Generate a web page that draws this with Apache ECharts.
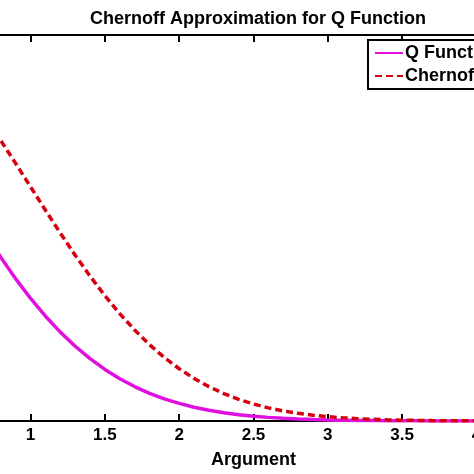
<!DOCTYPE html>
<html>
<head>
<meta charset="utf-8">
<script src="https://cdn.jsdelivr.net/npm/echarts@6/dist/echarts.min.js"></script>
<style>
  html, body { margin: 0; padding: 0; background: #fff; }
  #chart { width: 474px; height: 474px; }
</style>
</head>
<body>
<div id="chart"></div>
<script>
// argument values (x)
const args = [0, 0.1, 0.2, 0.3, 0.4, 0.5, 0.6, 0.7, 0.8, 0.9,
  1.0, 1.1, 1.2, 1.3, 1.4, 1.5, 1.6, 1.7, 1.8, 1.9,
  2.0, 2.1, 2.2, 2.3, 2.4, 2.5, 2.6, 2.7, 2.8, 2.9,
  3.0, 3.1, 3.2, 3.3, 3.4, 3.5, 3.6, 3.7, 3.8, 3.9,
  4.0, 4.2, 4.4, 4.6, 4.8, 5.0]

// Q function curve
const qValues = [0.5, 0.4602, 0.4207, 0.3821, 0.3446, 0.3085, 0.2743, 0.2420, 0.2119, 0.1841,
  0.1587, 0.1357, 0.1151, 0.0968, 0.0808, 0.0668, 0.0548, 0.0446, 0.0359, 0.0287,
  0.0228, 0.0179, 0.0139, 0.0107, 0.0082, 0.0062, 0.0047, 0.0035, 0.0026, 0.0019,
  0.0013, 0.0010, 0.0007, 0.0005, 0.0003, 0.0002, 0.0002, 0.0001, 0.0001, 0.0000,
  0.0000, 0.0000, 0.0000, 0.0000, 0.0000, 0.0000]

// Chernoff bound curve
const chernoffValues = [0.5, 0.4975, 0.4901, 0.4780, 0.4616, 0.4412, 0.4176, 0.3914, 0.3631, 0.3335,
  0.3033, 0.2730, 0.2434, 0.2148, 0.1877, 0.1623, 0.1390, 0.1179, 0.0989, 0.0822,
  0.0677, 0.0551, 0.0445, 0.0355, 0.0281, 0.0220, 0.0170, 0.0131, 0.0099, 0.0075,
  0.0056, 0.0041, 0.0030, 0.0022, 0.0015, 0.0011, 0.0008, 0.0005, 0.0004, 0.0002,
  0.0002, 0.0001, 0.0000, 0.0000, 0.0000, 0.0000]

const seriesNames = ['Q Function', 'Chernoff Bound']

const chart = echarts.init(document.getElementById('chart'))
const font = 'Liberation Sans, Arial, sans-serif'

const option = {
  animation: false,
  backgroundColor: '#fff',
  title: {
    text: 'Chernoff Approximation for Q Function',
    left: 253,
    textAlign: 'center',
    top: 5,
    textStyle: { fontFamily: font, fontSize: 18, fontWeight: 'bold', color: '#000' }
  },
  legend: {
    data: seriesNames,
    orient: 'vertical',
    left: 368,
    top: 40,
    padding: [4, 8, 4, 6],
    itemGap: 5,
    itemWidth: 28,
    itemHeight: 14,
    borderColor: '#000',
    borderWidth: 2,
    backgroundColor: '#fff',
    itemStyle: { opacity: 0 },
    textStyle: { fontFamily: font, fontSize: 18, fontWeight: 'bold', color: '#000', padding: [0, 0, 0, -3] }
  },
  grid: { left: -118, right: -151, top: 35, bottom: 53, outerBoundsMode: 'none', containLabel: false },
  xAxis: [{
    type: 'value',
    min: 0,
    max: 5,
    interval: 0.5,
    name: 'Argument',
    nameLocation: 'middle',
    nameGap: 30,
    nameTextStyle: { fontFamily: font, fontSize: 18, fontWeight: 'bold', color: '#000' },
    axisLine: { lineStyle: { color: '#000', width: 2 } },
    axisTick: { inside: true, length: 7, lineStyle: { color: '#000', width: 2 } },
    axisLabel: { margin: 6, fontFamily: font, fontSize: 17, fontWeight: 'bold', color: '#000' },
    splitLine: { show: false }
  }, {
    type: 'value',
    position: 'top',
    min: 0,
    max: 5,
    interval: 0.5,
    axisLine: { lineStyle: { color: '#000', width: 2 } },
    axisTick: { inside: true, length: 7, lineStyle: { color: '#000', width: 2 } },
    axisLabel: { show: false },
    splitLine: { show: false }
  }],
  yAxis: {
    type: 'value',
    min: 0,
    max: 0.5,
    interval: 0.05,
    axisLine: { show: true, lineStyle: { color: '#000', width: 2 } },
    axisTick: { inside: true, length: 7, lineStyle: { color: '#000', width: 2 } },
    axisLabel: { fontFamily: font, fontSize: 17, fontWeight: 'bold', color: '#000' },
    splitLine: { show: false }
  },
  series: [{
    name: seriesNames[0],
    type: 'line',
    symbol: 'none',
    data: args.map((x, i) => [x, qValues[i]]),
    lineStyle: { color: '#e010e0', width: 3.5 },
    itemStyle: { color: '#e010e0' }
  }, {
    name: seriesNames[1],
    type: 'line',
    symbol: 'none',
    data: args.map((x, i) => [x, chernoffValues[i]]),
    lineStyle: { color: '#d40010', width: 3.5, type: [7, 4] },
    itemStyle: { color: '#d40010' }
  }]
}

chart.setOption(option)
</script>
</body>
</html>
